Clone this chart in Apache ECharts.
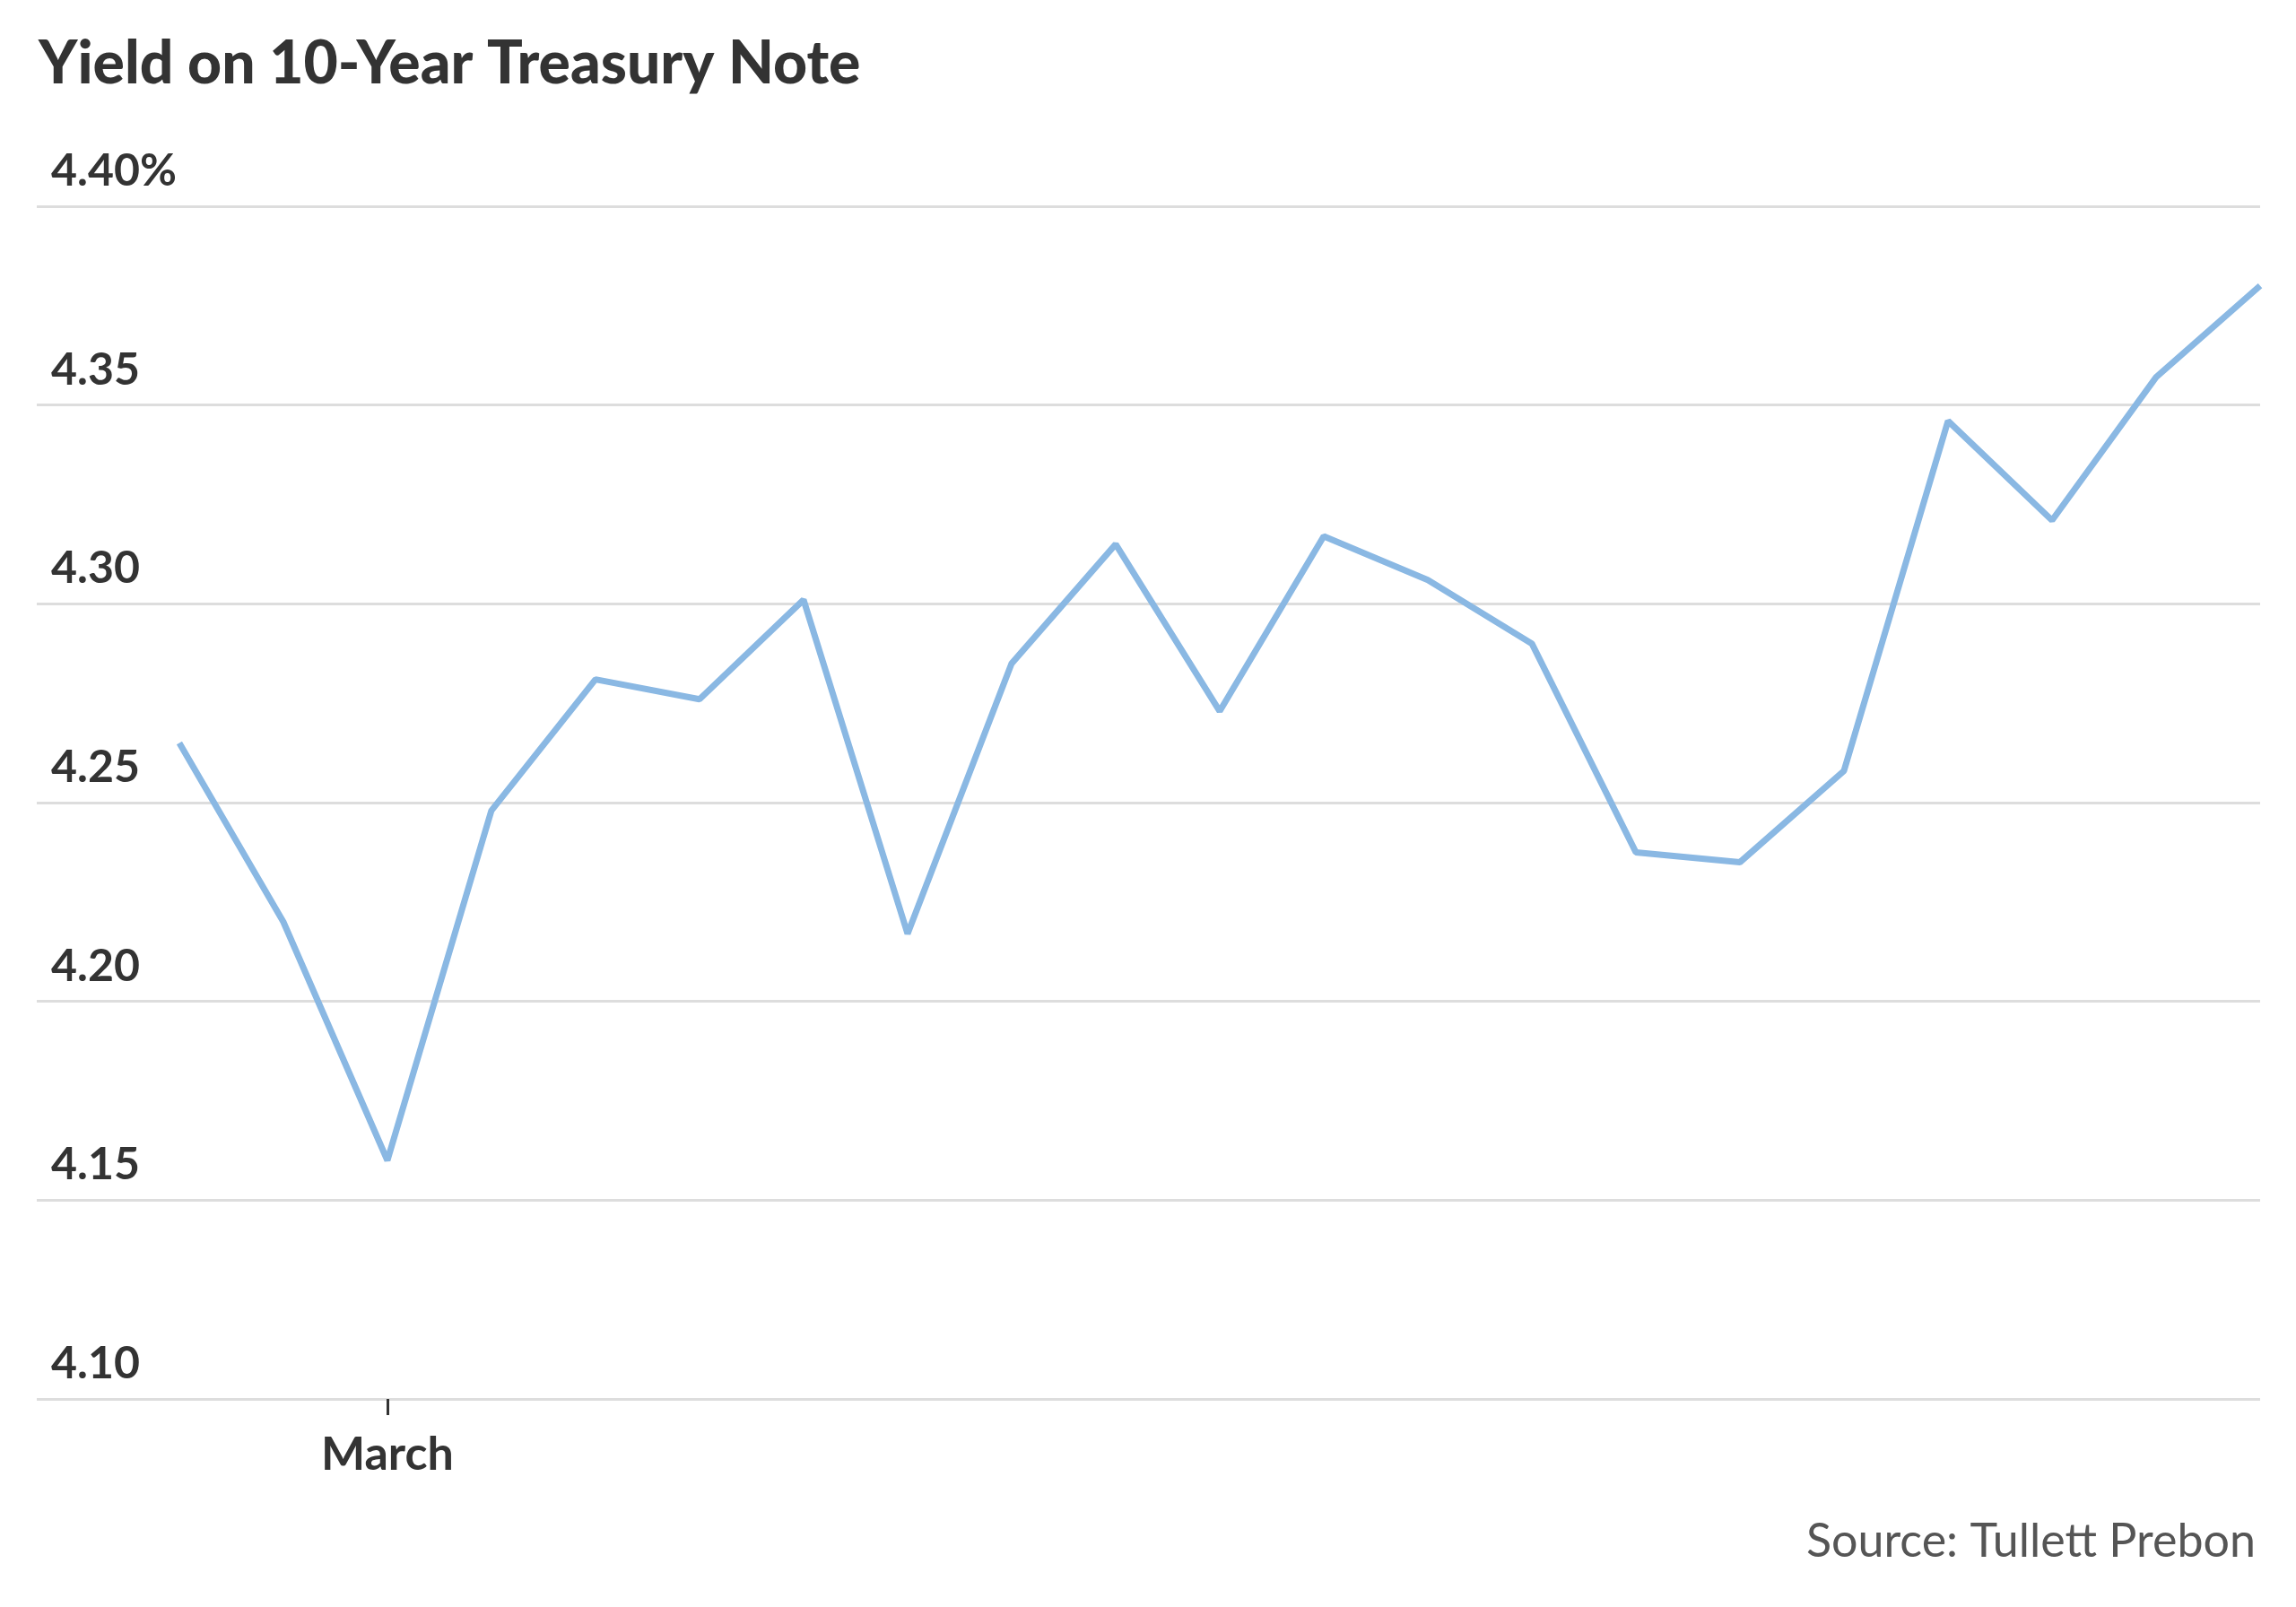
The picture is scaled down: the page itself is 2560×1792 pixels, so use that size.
<!DOCTYPE html>
<html><head><meta charset="utf-8">
<script src="https://cdn.jsdelivr.net/npm/echarts@6/dist/echarts.min.js"></script>
<style>html,body{margin:0;padding:0;background:#fff}#c{width:2560px;height:1792px}</style>
</head><body><div id="c"></div>
<script>
const dayIndex = [0,1,2,3,4,5,6,7,8,9,10,11,12,13,14,15,16,17,18,19,20];
const yields = [4.265,4.220,4.160,4.248,4.281,4.276,4.301,4.217,4.285,4.315,4.273,4.317,4.306,4.290,4.2375,4.235,4.258,4.346,4.321,4.357,4.380];
const xTickValues = [2];
const xTickLabels = {2:'March'};

const chart = echarts.init(document.getElementById('c'));
chart.setOption({
  animation:false,
  title:[{text:'Yield on 10-Year Treasury Note',left:38,top:34,textStyle:{fontFamily:'Lato',fontWeight:900,fontSize:66,color:'#333'}},
         {text:'Source: Tullett Prebon',right:40,top:1688,textStyle:{fontFamily:'Lato',fontWeight:'normal',fontSize:52,color:'#555'}}],
  grid:{left:41,right:40,top:230,bottom:232},
  xAxis:{type:'value',min:-1.37,max:20,
    axisLine:{show:false},splitLine:{show:false},
    axisTick:{show:true,customValues:xTickValues,length:18,lineStyle:{color:'#333',width:3}},
    axisLabel:{show:true,customValues:xTickValues,formatter:v=>xTickLabels[v]||'',margin:36,
      fontFamily:'Lato',fontWeight:'bold',fontSize:52,color:'#333'}},
  yAxis:{type:'value',min:4.10,max:4.40,interval:0.05,
    axisLine:{show:false},axisTick:{show:false},
    splitLine:{lineStyle:{color:'#dddddd',width:3}},
    axisLabel:{inside:true,margin:16,verticalAlign:'bottom',padding:[0,0,14,0],
      fontFamily:'Lato',fontWeight:'bold',fontSize:50,color:'#333',
      formatter:v=>{const s=v.toFixed(2);return Math.abs(v-4.40)<1e-6?s+'%':s;}}},
  series:[{type:'line',data:dayIndex.map((d,i)=>[d,yields[i]]),showSymbol:false,
    lineStyle:{color:'#8ab8e3',width:7},z:5}]
});
</script></body></html>
